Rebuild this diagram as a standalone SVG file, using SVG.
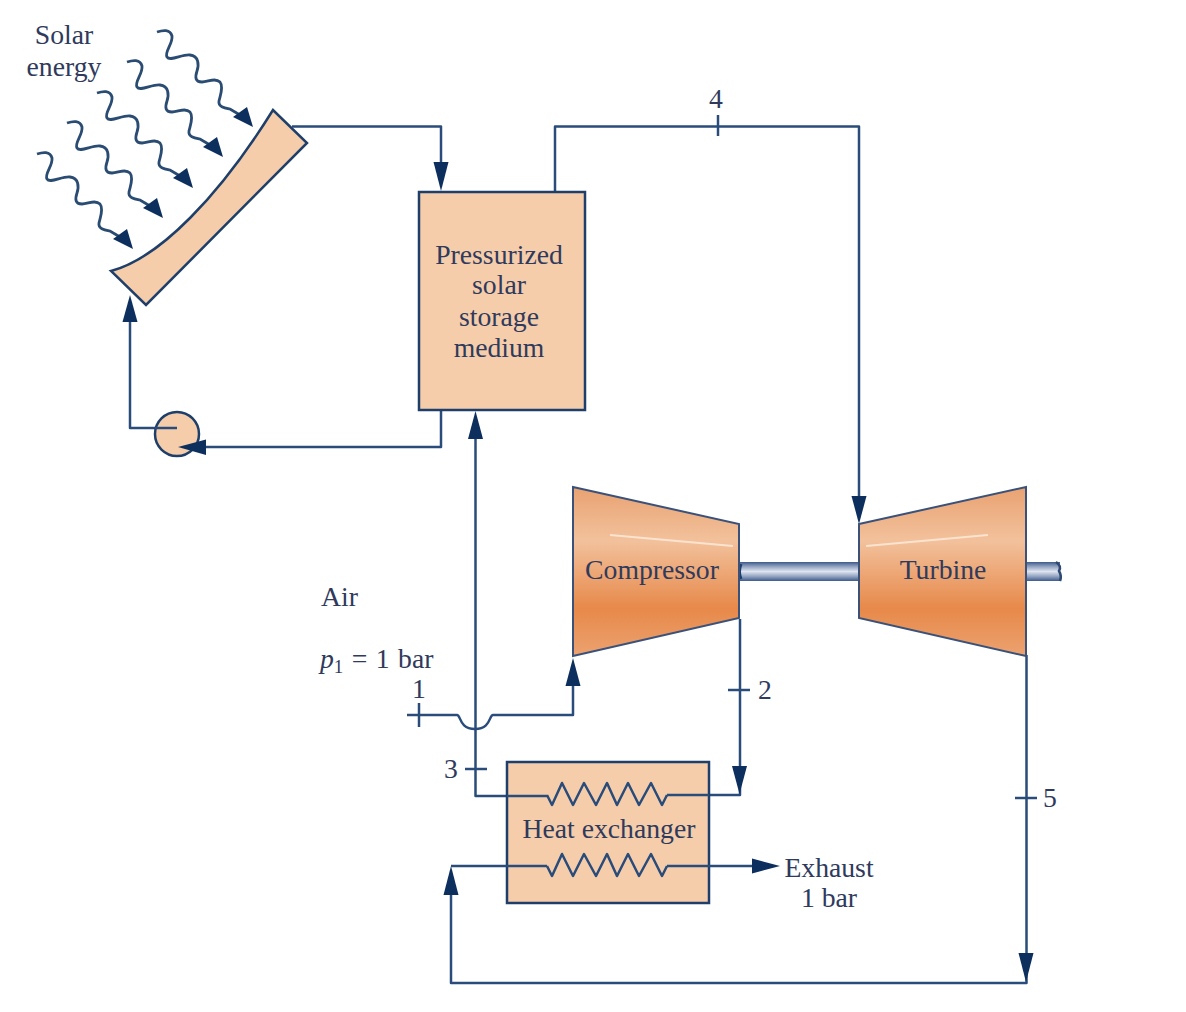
<svg xmlns="http://www.w3.org/2000/svg" xmlns:xlink="http://www.w3.org/1999/xlink" width="1186" height="1012" viewBox="0 0 1186 1012">
<style>
text{font-family:"Liberation Serif","Times New Roman",serif;font-size:27.7px;fill:#2f3a5c}
.m{text-anchor:middle}
.box{fill:#f6cdaa;stroke:#1f3f6b;stroke-width:2.5}
.pipe{fill:none;stroke:#2a4c7a;stroke-width:2.5;stroke-linejoin:round}
.ray{fill:none;stroke:#2a4c72;stroke-width:2.8}
.head{fill:#0d2f5e}
.hi{stroke:#fbe3cf;stroke-width:2;fill:none}
</style>
<defs>
<linearGradient id="mach" x1="0" y1="0" x2="0" y2="1">
<stop offset="0" stop-color="#e9a271"/><stop offset="0.32" stop-color="#f2c19c"/><stop offset="0.72" stop-color="#e7894a"/><stop offset="1" stop-color="#eca270"/>
</linearGradient>
<linearGradient id="shaft" x1="0" y1="0" x2="0" y2="1">
<stop offset="0" stop-color="#3d5a8a"/><stop offset="0.22" stop-color="#8c9dbd"/><stop offset="0.5" stop-color="#dfe5f0"/><stop offset="0.78" stop-color="#8c9dbd"/><stop offset="1" stop-color="#3d5a8a"/>
</linearGradient>
<g id="ray">
<path class="ray" d="M37 154C43 152 50 151 52 158C53 166 44 174 47 179C50 184 62 176 70 177C79 178 79 187 77 193C75 199 75 204 82 204C88 204 95 199 100 204C104 209 100 218 99 223C98 229 105 230 110 231L120 237"/>
<polygon class="head" points="133,249 113,239 127,229"/>
</g>
<g id="zig"><path class="pipe" d="M547 0L552 10L562 -12L573 10L584 -12L596 10L607 -12L617 10L628 -12L639 10L651 -12L662 10L667 0"/></g>
</defs>

<g id="shaft-part">
<rect x="739" y="562" width="122" height="19" fill="url(#shaft)"/>
<rect x="1024" y="562" width="36" height="19" fill="url(#shaft)"/>
<path d="M1056 562Q1062 566 1059 571Q1062 576 1060 581" fill="none" stroke="#2f4a72" stroke-width="2.5"/>
<path d="M741 564Q738 572 741 579" fill="none" stroke="#1f3f6b" stroke-width="3"/>
</g>

<g id="solar-energy">
<use xlink:href="#ray" href="#ray"/>
<use xlink:href="#ray" href="#ray" x="30" y="-31"/>
<use xlink:href="#ray" href="#ray" x="60" y="-61"/>
<use xlink:href="#ray" href="#ray" x="90" y="-92"/>
<use xlink:href="#ray" href="#ray" x="120" y="-122"/>
<text class="m" x="64" y="44">Solar</text>
<text class="m" x="64" y="76">energy</text>
</g>

<g id="connectors">
<path class="pipe" d="M292 126.500H441V170"/>
<polygon class="head" points="441,191 433.500,162 448.500,162"/>
<path class="pipe" d="M555 192V126.500H859V500"/>
<polygon class="head" points="859,524 851.500,496 866.500,496"/>
<path class="pipe" d="M718 115V136"/>
<path class="pipe" d="M441 410V447H200"/>
<path class="pipe" d="M177 428H130V320"/>
<polygon class="head" points="130,295 122.500,322 137.500,322"/>
<path class="pipe" d="M475.500 430V796H547"/>
<polygon class="head" points="475.500,411 468,439 483,439"/>
<path class="pipe" d="M667 795H740V619"/>
<polygon class="head" points="739.500,794 732,766 747,766"/>
<path class="pipe" d="M407 715H457C461 715 459 729 475 729C491 729 489 715 493 715H573V680"/>
<polygon class="head" points="573,658 565.500,686 580.500,686"/>
<path class="pipe" d="M419 703V727"/>
<path class="pipe" d="M728 690H750"/>
<path class="pipe" d="M465 769H487"/>
<path class="pipe" d="M1015 798H1037"/>
<path class="pipe" d="M1026.500 655V983H451V890"/>
<polygon class="head" points="1026,982 1018.500,953 1033.500,953"/>
<polygon class="head" points="451,866 443.500,895 458.500,895"/>
</g>

<g id="collector">
<path class="box" d="M111 271C160 258 220 195 273 110L307 143L146 305Z"/>
</g>

<g id="pump">
<circle class="box" cx="177" cy="434" r="22"/>
<path class="pipe" d="M155 428H177"/>
<path class="pipe" d="M200 447H190"/>
<polygon class="head" points="178,447 206,439.500 206,455"/>
</g>

<g id="storage">
<rect class="box" x="419" y="192" width="166" height="218"/>
<text class="m" x="499" y="264">Pressurized</text>
<text class="m" x="499" y="294">solar</text>
<text class="m" x="499" y="326">storage</text>
<text class="m" x="499" y="357">medium</text>
</g>

<g id="compressor">
<polygon points="573,487 739,524 739,618 573,656" fill="url(#mach)" stroke="#3a527a" stroke-width="2"/>
<path class="hi" d="M610 535L733 546"/>
<text class="m" x="652" y="579">Compressor</text>
</g>

<g id="turbine">
<polygon points="859,524 1026,487 1026,656 859,618" fill="url(#mach)" stroke="#3a527a" stroke-width="2"/>
<path class="hi" d="M866 546L988 535"/>
<text class="m" x="943" y="579">Turbine</text>
</g>

<g id="heat-exchanger">
<rect class="box" x="507" y="762" width="202" height="141"/>
<path class="pipe" d="M507 796H547M667 795H709"/>
<use xlink:href="#zig" href="#zig" y="795"/>
<use xlink:href="#zig" href="#zig" y="866"/>
<path class="pipe" d="M451 866H547M667 866H756"/>
<polygon class="head" points="780,866 752,858.500 752,873.500"/>
<text class="m" x="609" y="838">Heat exchanger</text>
</g>

<g id="labels">
<text x="321" y="606">Air</text>
<text x="320" y="668" word-spacing="1.5"><tspan font-style="italic">p</tspan><tspan font-size="19" dy="5">1</tspan><tspan dy="-5"> = 1 bar</tspan></text>
<text class="m" x="419" y="698">1</text>
<text class="m" x="765" y="699">2</text>
<text class="m" x="451" y="778">3</text>
<text class="m" x="716" y="108">4</text>
<text class="m" x="1050" y="807">5</text>
<text class="m" x="829" y="877">Exhaust</text>
<text class="m" x="829" y="907">1 bar</text>
</g>
</svg>
